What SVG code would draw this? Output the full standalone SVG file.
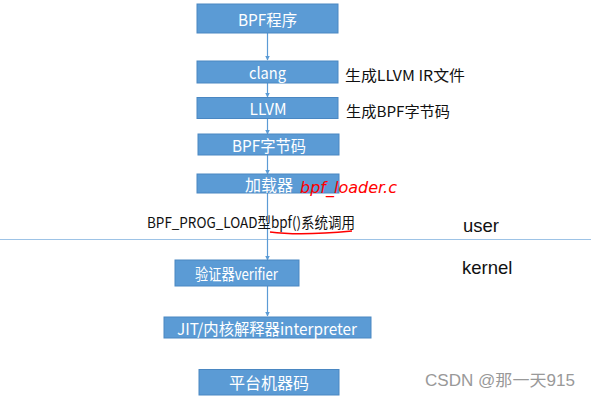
<svg xmlns="http://www.w3.org/2000/svg" width="591" height="401" viewBox="0 0 591 401">
<defs>
<marker id="ah" markerWidth="5" markerHeight="5" refX="4.5" refY="2.5" orient="auto" markerUnits="userSpaceOnUse">
<path d="M0,0 L5,2.5 L0,5 z" fill="#5B9BD5"/>
</marker>
<style>
.box{fill:#5B9BD5;stroke:#4A87C2;stroke-width:1}
.bt{fill:#fff;font-family:"Noto Sans CJK SC","Liberation Sans",sans-serif;font-size:16px;text-anchor:middle;dominant-baseline:central}
.lb{fill:#111;font-family:"Noto Sans CJK SC","Liberation Sans",sans-serif;font-size:15px;dominant-baseline:central}
.con{stroke:#5B9BD5;stroke-width:1.2;fill:none}
</style>
</defs>
<rect width="591" height="401" fill="#fff"/>
<line x1="0" y1="239.5" x2="591" y2="239.5" stroke="#9DC3E6" stroke-width="1.2"/>
<g id="connectors">
<line class="con" x1="267.5" y1="33" x2="267.5" y2="60" marker-end="url(#ah)"/>
<line class="con" x1="267.5" y1="83" x2="267.5" y2="97" marker-end="url(#ah)"/>
<line class="con" x1="267.5" y1="118" x2="267.5" y2="134" marker-end="url(#ah)"/>
<line class="con" x1="267.5" y1="155" x2="267.5" y2="174" marker-end="url(#ah)"/>
<line class="con" x1="267.5" y1="193" x2="267.5" y2="260" marker-end="url(#ah)"/>
<line class="con" x1="267.5" y1="286" x2="267.5" y2="316" marker-end="url(#ah)"/>
</g>
<g id="n1"><rect class="box" x="197" y="4" width="141" height="29"/><text class="bt" x="267.5" y="18.5" textLength="59" lengthAdjust="spacingAndGlyphs">BPF程序</text></g>
<g id="n2"><rect class="box" x="197" y="61" width="141" height="22"/><text class="bt" x="267.5" y="72" textLength="37" lengthAdjust="spacingAndGlyphs">clang</text></g>
<g id="n3"><rect class="box" x="197" y="97.5" width="141" height="21"/><text class="bt" x="268" y="108" textLength="37" lengthAdjust="spacingAndGlyphs">LLVM</text></g>
<g id="n4"><rect class="box" x="198" y="134" width="141" height="21"/><text class="bt" x="269" y="144.5" textLength="74" lengthAdjust="spacingAndGlyphs">BPF字节码</text></g>
<g id="n5"><rect class="box" x="197" y="174" width="142" height="19"/><text class="bt" x="269" y="183.5" textLength="48" lengthAdjust="spacingAndGlyphs">加载器</text></g>
<g id="n6"><rect class="box" x="175" y="260" width="124" height="26"/><text class="bt" x="236.5" y="273" textLength="83" lengthAdjust="spacingAndGlyphs">验证器verifier</text></g>
<g id="n7"><rect class="box" x="164" y="317" width="207" height="21"/><text class="bt" x="267" y="327.5" textLength="180" lengthAdjust="spacingAndGlyphs">JIT/内核解释器interpreter</text></g>
<g id="n8"><rect class="box" x="199" y="369.5" width="140" height="25.5"/><text class="bt" x="269" y="382" textLength="80" lengthAdjust="spacingAndGlyphs">平台机器码</text></g>
<g id="labels">
<text class="lb" x="345" y="74" textLength="120" lengthAdjust="spacingAndGlyphs">生成LLVM IR文件</text>
<text class="lb" x="346" y="110" textLength="104" lengthAdjust="spacingAndGlyphs">生成BPF字节码</text>
<text class="lb" x="147" y="221" textLength="208" lengthAdjust="spacingAndGlyphs">BPF_PROG_LOAD型bpf()系统调用</text>
<text class="lb" x="463" y="225" style="font-size:18.5px;font-family:'Liberation Sans',sans-serif">user</text>
<text class="lb" x="462" y="267" style="font-size:18.5px;font-family:'Liberation Sans',sans-serif">kernel</text>
<text x="425" y="386" fill="#999" font-family="'Liberation Sans','Noto Sans CJK SC',sans-serif" font-size="16px" textLength="150" lengthAdjust="spacingAndGlyphs">CSDN @那一天915</text>
</g>
<g id="annotation">
<text x="300" y="193" fill="#FF0000" font-family="'DejaVu Sans',sans-serif" font-size="16px" font-style="italic" textLength="97" lengthAdjust="spacingAndGlyphs">bpf_loader.c</text>
<path d="M270,232 Q300,236 352,231" stroke="#FF0000" stroke-width="1.5" fill="none"/>
</g>
</svg>
